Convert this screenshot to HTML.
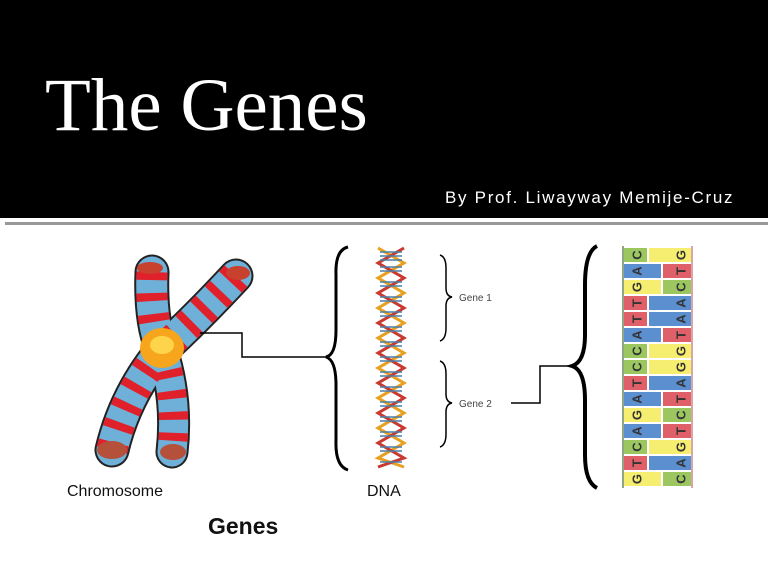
<!DOCTYPE html>
<html><head><style>
body{margin:0;width:768px;height:576px;background:#fff;overflow:hidden;position:relative;font-family:"Liberation Sans",Arial,sans-serif}
.hdr{position:absolute;left:0;top:0;width:768px;height:218px;background:#000}
</style></head><body>
<div class="hdr"></div>
<svg width="768" height="576" style="position:absolute;left:0;top:0">
<text x="45" y="130" font-family="Liberation Serif" font-size="75" fill="#fff">The Genes</text>
<text x="445" y="203" font-size="17" letter-spacing="1.7" fill="#fff">By Prof. Liwayway Memije-Cruz</text>
<line x1="5" y1="223.5" x2="768" y2="223.5" stroke="#999" stroke-width="3"/>
<!-- chromosome -->
<g stroke-linecap="round" fill="none">
<path d="M152 272 Q150 320 162 350" stroke="#222" stroke-width="35"/>
<path d="M162 350 Q125 395 112 450" stroke="#222" stroke-width="35"/>
<path d="M236 276 Q195 320 162 350" stroke="#222" stroke-width="35"/>
<path d="M162 350 Q178 400 172 452" stroke="#222" stroke-width="33"/>
<g stroke="#6fb0d8" stroke-width="31">
<path d="M152 272 Q150 320 162 350"/><path d="M162 350 Q125 395 112 450"/><path d="M236 276 Q195 320 162 350"/><path d="M162 350 Q178 400 172 452" stroke-width="29"/>
</g>
<g stroke="#e0202a" stroke-width="31" stroke-dasharray="8 13" stroke-linecap="butt">
<path d="M152 272 Q150 320 162 350"/><path d="M162 350 Q125 395 112 450"/><path d="M236 276 Q195 320 162 350"/><path d="M162 350 Q178 400 172 452" stroke-width="29"/>
</g>
</g>
<ellipse cx="112" cy="450" rx="15" ry="9" fill="#b5513a"/>
<ellipse cx="173" cy="452" rx="13" ry="8" fill="#b5513a"/>
<ellipse cx="150" cy="268" rx="13" ry="6" fill="#c8402e"/>
<ellipse cx="238" cy="273" rx="12" ry="7" fill="#c8402e"/>
<ellipse cx="162" cy="348" rx="22" ry="20" fill="#f6a51c"/>
<ellipse cx="162" cy="345" rx="12" ry="9" fill="#fdd44a"/>
<!-- connectors -->
<polyline points="200,333 242,333 242,357 328,357" fill="none" stroke="#000" stroke-width="1.5"/>
<path d="M348 247 Q335 250 336 275 L336 330 Q336 355 326 357 Q336 360 336 385 L336 440 Q335 466 348 470" fill="none" stroke="#000" stroke-width="3"/>
<!-- DNA -->
<g>
<path d="M378 248 L404 263 L378 278 L404 293 L378 308 L404 323 L378 338 L404 353 L378 368 L404 383 L378 398 L404 413 L378 428 L404 443 L378 458 L404 467" fill="none" stroke="#e8a020" stroke-width="3"/>
<path d="M404 248 L378 263 L404 278 L378 293 L404 308 L378 323 L404 338 L378 353 L404 368 L378 383 L404 398 L378 413 L404 428 L378 443 L404 458 L378 467" fill="none" stroke="#c83a30" stroke-width="3"/>
<path d="M380 252h22M380 256h22M380 260h22M380 267h22M380 271h22M380 282h22M380 286h22M380 297h22M380 301h22M380 312h22M380 316h22M380 327h22M380 331h22M380 342h22M380 346h22M380 357h22M380 361h22M380 372h22M380 376h22M380 387h22M380 391h22M380 402h22M380 406h22M380 417h22M380 421h22M380 432h22M380 436h22M380 447h22M380 451h22M380 462h22" stroke="#4a7fa8" stroke-width="1.5"/>
</g>
<!-- small braces -->
<path d="M440 255 Q446 257 446 268 L446 288 Q446 296 452 297 Q446 298 446 306 L446 328 Q446 339 440 341" fill="none" stroke="#000" stroke-width="1.5"/>
<path d="M440 361 Q446 363 446 374 L446 394 Q446 402 452 403 Q446 404 446 412 L446 434 Q446 445 440 447" fill="none" stroke="#000" stroke-width="1.5"/>
<text x="459" y="301" font-size="10" fill="#444">Gene 1</text>
<text x="459" y="407" font-size="10" fill="#444">Gene 2</text>
<polyline points="511,403 540,403 540,366 573,366" fill="none" stroke="#000" stroke-width="1.5"/>
<path d="M597 246 Q585 252 585 285 L585 335 Q585 362 572 366 Q585 370 585 400 L585 455 Q585 482 597 488" fill="none" stroke="#000" stroke-width="4"/>
<g id="bp"></g>
<line x1="623" y1="246" x2="623" y2="488" stroke="#6a8a5a" stroke-width="1.5"/>
<line x1="692" y1="246" x2="692" y2="488" stroke="#c88" stroke-width="1.5"/>
<text x="67" y="496" font-size="16" fill="#111">Chromosome</text>
<text x="367" y="496" font-size="16" fill="#111">DNA</text>
<text x="208" y="534" font-size="23" font-weight="bold" fill="#111">Genes</text>
</svg>
<script>
var L="CAGTTACCTAGACTG",R="GTCAATGGATCTGAC";
var col={A:"#5b8fd0",T:"#e0606a",G:"#f5ee70",C:"#9cc760"};
var s="";
for(var i=0;i<15;i++){var y=247+i*16,l=L[i],r=R[i];var b=(l=="C"||l=="T")?648:662;
s+='<rect x="624" y="'+(y+1)+'" width="'+(b-624-1)+'" height="14" fill="'+col[l]+'"/>';
s+='<rect x="'+(b+1)+'" y="'+(y+1)+'" width="'+(691-b-1)+'" height="14" fill="'+col[r]+'"/>';
s+='<text transform="translate(638,'+(y+8)+') rotate(-90)" text-anchor="middle" dominant-baseline="middle" font-size="13" font-weight="bold" fill="#333">'+l+'</text>';
s+='<text transform="translate(682,'+(y+8)+') rotate(-90)" text-anchor="middle" dominant-baseline="middle" font-size="13" font-weight="bold" fill="#333">'+r+'</text>';}
document.getElementById("bp").innerHTML=s;
</script>
</body></html>
